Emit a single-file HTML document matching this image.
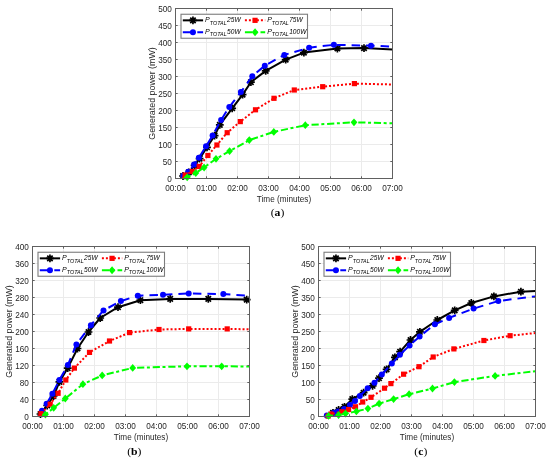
<!DOCTYPE html>
<html><head><meta charset="utf-8"><title>Generated power</title>
<style>
html,body{margin:0;padding:0;background:#fff;}
body{width:550px;height:460px;overflow:hidden;}
svg{display:block;}
.t{font-family:"Liberation Sans",Arial,sans-serif;font-size:8.2px;fill:#262626;}
.yl{font-family:"Liberation Sans",Arial,sans-serif;font-size:8.4px;fill:#262626;}
.lg{font-family:"Liberation Sans",Arial,sans-serif;font-size:7px;font-style:italic;fill:#000;}
.sub{font-size:5.4px;}
.num{font-size:6.6px;}
.cap{font-family:"Liberation Serif","Times New Roman",serif;font-size:10.6px;fill:#000;}
</style></head><body>
<svg width="550" height="460" viewBox="0 0 550 460">
<rect width="550" height="460" fill="#fff"/>
<g><path d="M206.5 8.5V178.5M237.5 8.5V178.5M268.5 8.5V178.5M299.5 8.5V178.5M330.5 8.5V178.5M361.5 8.5V178.5M175.5 161.5H392.5M175.5 144.5H392.5M175.5 127.5H392.5M175.5 110.5H392.5M175.5 93.5H392.5M175.5 76.5H392.5M175.5 59.5H392.5M175.5 42.5H392.5M175.5 25.5H392.5" stroke="#ebebeb" stroke-width="1" fill="none"/>
<path d="M181.8 178.5 183 176 188.8 172.4 194.6 165.4 199.6 158.6 207 147.3 214.6 135.7 219.8 124.9 232.2 108.3 242.6 94.6 250.9 82.2 265.7 70.9 285.7 59.6 303.9 52.6 337.4 48.5 364 48.1 392.5 49.4" stroke="#000000" stroke-width="2.0" fill="none" stroke-linejoin="round"/>
<path d="M183 172.1V179.9M179.1 176H186.9M180.3 173.3L185.7 178.7M180.3 178.7L185.7 173.3" stroke="#000" stroke-width="1.7" fill="none"/>
<path d="M188.8 168.5V176.3M184.9 172.4H192.7M186.1 169.7L191.5 175.1M186.1 175.1L191.5 169.7" stroke="#000" stroke-width="1.7" fill="none"/>
<path d="M194.6 161.5V169.3M190.7 165.4H198.5M191.9 162.7L197.3 168.1M191.9 168.1L197.3 162.7" stroke="#000" stroke-width="1.7" fill="none"/>
<path d="M199.6 154.7V162.5M195.7 158.6H203.5M196.9 155.9L202.3 161.3M196.9 161.3L202.3 155.9" stroke="#000" stroke-width="1.7" fill="none"/>
<path d="M207 143.4V151.2M203.1 147.3H210.9M204.3 144.6L209.7 150M204.3 150L209.7 144.6" stroke="#000" stroke-width="1.7" fill="none"/>
<path d="M214.6 131.8V139.6M210.7 135.7H218.5M211.9 133L217.3 138.4M211.9 138.4L217.3 133" stroke="#000" stroke-width="1.7" fill="none"/>
<path d="M219.8 121V128.8M215.9 124.9H223.7M217.1 122.2L222.5 127.6M217.1 127.6L222.5 122.2" stroke="#000" stroke-width="1.7" fill="none"/>
<path d="M232.2 104.4V112.2M228.3 108.3H236.1M229.5 105.6L234.9 111M229.5 111L234.9 105.6" stroke="#000" stroke-width="1.7" fill="none"/>
<path d="M242.6 90.7V98.5M238.7 94.6H246.5M239.9 91.9L245.3 97.3M239.9 97.3L245.3 91.9" stroke="#000" stroke-width="1.7" fill="none"/>
<path d="M250.9 78.3V86.1M247 82.2H254.8M248.2 79.5L253.6 84.9M248.2 84.9L253.6 79.5" stroke="#000" stroke-width="1.7" fill="none"/>
<path d="M265.7 67V74.8M261.8 70.9H269.6M263 68.2L268.4 73.6M263 73.6L268.4 68.2" stroke="#000" stroke-width="1.7" fill="none"/>
<path d="M285.7 55.7V63.5M281.8 59.6H289.6M283 56.9L288.4 62.3M283 62.3L288.4 56.9" stroke="#000" stroke-width="1.7" fill="none"/>
<path d="M303.9 48.7V56.5M300 52.6H307.8M301.2 49.9L306.6 55.3M301.2 55.3L306.6 49.9" stroke="#000" stroke-width="1.7" fill="none"/>
<path d="M337.4 44.6V52.4M333.5 48.5H341.3M334.7 45.8L340.1 51.2M334.7 51.2L340.1 45.8" stroke="#000" stroke-width="1.7" fill="none"/>
<path d="M364 44.2V52M360.1 48.1H367.9M361.3 45.4L366.7 50.8M361.3 50.8L366.7 45.4" stroke="#000" stroke-width="1.7" fill="none"/>
<path d="M181.5 178.5 183.4 175.7 188.3 171.8 194.1 164.6 198.9 157.7 206 146.3 212.6 135.4 221.1 120 229.3 106.9 240.9 92 252.3 76.2 264.8 65.7 284.3 54.9 309.1 47.7 333.9 44.8 371 45.7 392.5 46.6" stroke="#0000ff" stroke-width="2.0" fill="none" stroke-linejoin="round" stroke-dasharray="8.5 6"/>
<circle cx="183.4" cy="175.7" r="3.0" fill="#0000ff"/>
<circle cx="188.3" cy="171.8" r="3.0" fill="#0000ff"/>
<circle cx="194.1" cy="164.6" r="3.0" fill="#0000ff"/>
<circle cx="198.9" cy="157.7" r="3.0" fill="#0000ff"/>
<circle cx="206" cy="146.3" r="3.0" fill="#0000ff"/>
<circle cx="212.6" cy="135.4" r="3.0" fill="#0000ff"/>
<circle cx="221.1" cy="120" r="3.0" fill="#0000ff"/>
<circle cx="229.3" cy="106.9" r="3.0" fill="#0000ff"/>
<circle cx="240.9" cy="92" r="3.0" fill="#0000ff"/>
<circle cx="252.3" cy="76.2" r="3.0" fill="#0000ff"/>
<circle cx="264.8" cy="65.7" r="3.0" fill="#0000ff"/>
<circle cx="284.3" cy="54.9" r="3.0" fill="#0000ff"/>
<circle cx="309.1" cy="47.7" r="3.0" fill="#0000ff"/>
<circle cx="333.9" cy="44.8" r="3.0" fill="#0000ff"/>
<circle cx="371" cy="45.7" r="3.0" fill="#0000ff"/>
<path d="M182.3 178.5 185.1 175 192.3 171.5 199.2 166.4 207.9 155.5 216.9 145 227.2 132.7 240.3 121.6 255.5 109.8 274 98.3 294.3 90 322.7 86.7 354.4 83.6 392.5 84.5" stroke="#ff0000" stroke-width="2.0" fill="none" stroke-linejoin="round" stroke-dasharray="2 2"/>
<rect x="182.5" y="172.4" width="5.2" height="5.2" fill="#ff0000"/>
<rect x="189.7" y="168.9" width="5.2" height="5.2" fill="#ff0000"/>
<rect x="196.6" y="163.8" width="5.2" height="5.2" fill="#ff0000"/>
<rect x="205.3" y="152.9" width="5.2" height="5.2" fill="#ff0000"/>
<rect x="214.3" y="142.4" width="5.2" height="5.2" fill="#ff0000"/>
<rect x="224.6" y="130.1" width="5.2" height="5.2" fill="#ff0000"/>
<rect x="237.7" y="119" width="5.2" height="5.2" fill="#ff0000"/>
<rect x="252.9" y="107.2" width="5.2" height="5.2" fill="#ff0000"/>
<rect x="271.4" y="95.7" width="5.2" height="5.2" fill="#ff0000"/>
<rect x="291.7" y="87.4" width="5.2" height="5.2" fill="#ff0000"/>
<rect x="320.1" y="84.1" width="5.2" height="5.2" fill="#ff0000"/>
<rect x="351.8" y="81" width="5.2" height="5.2" fill="#ff0000"/>
<path d="M183.8 178.5 187.2 177.3 195.8 173 204.1 167.5 216 158.8 229.6 151.1 249.3 140.1 273.8 131.9 305.3 125.2 354 122.3 392.5 123.3" stroke="#00ff00" stroke-width="2.0" fill="none" stroke-linejoin="round" stroke-dasharray="7.2 2.6 3 2.8"/>
<path d="M187.2 173.4L190.6 177.3L187.2 181.2L183.8 177.3Z" fill="#00ff00"/>
<path d="M195.8 169.1L199.2 173L195.8 176.9L192.4 173Z" fill="#00ff00"/>
<path d="M204.1 163.6L207.5 167.5L204.1 171.4L200.7 167.5Z" fill="#00ff00"/>
<path d="M216 154.9L219.4 158.8L216 162.7L212.6 158.8Z" fill="#00ff00"/>
<path d="M229.6 147.2L233 151.1L229.6 155L226.2 151.1Z" fill="#00ff00"/>
<path d="M249.3 136.2L252.7 140.1L249.3 144L245.9 140.1Z" fill="#00ff00"/>
<path d="M273.8 128L277.2 131.9L273.8 135.8L270.4 131.9Z" fill="#00ff00"/>
<path d="M305.3 121.3L308.7 125.2L305.3 129.1L301.9 125.2Z" fill="#00ff00"/>
<path d="M354 118.4L357.4 122.3L354 126.2L350.6 122.3Z" fill="#00ff00"/>
<path d="M175.5 178.5V176.3M175.5 8.5V10.7M206.5 178.5V176.3M206.5 8.5V10.7M237.5 178.5V176.3M237.5 8.5V10.7M268.5 178.5V176.3M268.5 8.5V10.7M299.5 178.5V176.3M299.5 8.5V10.7M330.5 178.5V176.3M330.5 8.5V10.7M361.5 178.5V176.3M361.5 8.5V10.7M392.5 178.5V176.3M392.5 8.5V10.7M175.5 178.5H177.7M392.5 178.5H390.3M175.5 161.5H177.7M392.5 161.5H390.3M175.5 144.5H177.7M392.5 144.5H390.3M175.5 127.5H177.7M392.5 127.5H390.3M175.5 110.5H177.7M392.5 110.5H390.3M175.5 93.5H177.7M392.5 93.5H390.3M175.5 76.5H177.7M392.5 76.5H390.3M175.5 59.5H177.7M392.5 59.5H390.3M175.5 42.5H177.7M392.5 42.5H390.3M175.5 25.5H177.7M392.5 25.5H390.3M175.5 8.5H177.7M392.5 8.5H390.3" stroke="#606060" stroke-width="1" fill="none"/>
<rect x="175.5" y="8.5" width="217" height="170" stroke="#606060" stroke-width="1" fill="none"/>
<text transform="translate(175.5 190.6) scale(1 1.1)" text-anchor="middle" class="t">00:00</text>
<text transform="translate(206.5 190.6) scale(1 1.1)" text-anchor="middle" class="t">01:00</text>
<text transform="translate(237.5 190.6) scale(1 1.1)" text-anchor="middle" class="t">02:00</text>
<text transform="translate(268.5 190.6) scale(1 1.1)" text-anchor="middle" class="t">03:00</text>
<text transform="translate(299.5 190.6) scale(1 1.1)" text-anchor="middle" class="t">04:00</text>
<text transform="translate(330.5 190.6) scale(1 1.1)" text-anchor="middle" class="t">05:00</text>
<text transform="translate(361.5 190.6) scale(1 1.1)" text-anchor="middle" class="t">06:00</text>
<text transform="translate(392.5 190.6) scale(1 1.1)" text-anchor="middle" class="t">07:00</text>
<text transform="translate(171.9 181.69) scale(1 1.1)" text-anchor="end" class="t">0</text>
<text transform="translate(171.9 164.69) scale(1 1.1)" text-anchor="end" class="t">50</text>
<text transform="translate(171.9 147.69) scale(1 1.1)" text-anchor="end" class="t">100</text>
<text transform="translate(171.9 130.69) scale(1 1.1)" text-anchor="end" class="t">150</text>
<text transform="translate(171.9 113.69) scale(1 1.1)" text-anchor="end" class="t">200</text>
<text transform="translate(171.9 96.69) scale(1 1.1)" text-anchor="end" class="t">250</text>
<text transform="translate(171.9 79.69) scale(1 1.1)" text-anchor="end" class="t">300</text>
<text transform="translate(171.9 62.69) scale(1 1.1)" text-anchor="end" class="t">350</text>
<text transform="translate(171.9 45.69) scale(1 1.1)" text-anchor="end" class="t">400</text>
<text transform="translate(171.9 28.69) scale(1 1.1)" text-anchor="end" class="t">450</text>
<text transform="translate(171.9 11.69) scale(1 1.1)" text-anchor="end" class="t">500</text>
<text transform="translate(284 201.7) scale(1 1.1)" text-anchor="middle" class="t">Time (minutes)</text>
<text transform="translate(154.8 93.5) rotate(-90)" text-anchor="middle" class="yl" textLength="92.5" lengthAdjust="spacingAndGlyphs">Generated power (mW)</text>
<text transform="translate(277.5 216.4) scale(1.1 1)" text-anchor="middle" class="cap">(<tspan font-weight="bold">a</tspan>)</text>
<rect x="181" y="14.25" width="126.5" height="24" fill="#fff" stroke="#7c7c7c" stroke-width="1.1"/>
<path d="M182.8 20.35H203.1" stroke="#000000" stroke-width="2.0"/>
<path d="M192.95 16.45V24.25M189.05 20.35H196.85M190.25 17.65L195.65 23.05M190.25 23.05L195.65 17.65" stroke="#000" stroke-width="1.7" fill="none"/>
<text x="205.1" y="22.15" class="lg">P<tspan class="sub" dy="2.4">TOTAL</tspan><tspan class="num" dx="0.4" dy="-2.8">25W</tspan></text>
<path d="M182.8 32.25H203.1" stroke="#0000ff" stroke-width="2.0" stroke-dasharray="8.5 6"/>
<circle cx="192.95" cy="32.25" r="3.0" fill="#0000ff"/>
<text x="205.1" y="34.05" class="lg">P<tspan class="sub" dy="2.4">TOTAL</tspan><tspan class="num" dx="0.4" dy="-2.8">50W</tspan></text>
<path d="M244.9 20.35H265.2" stroke="#ff0000" stroke-width="2.0" stroke-dasharray="2 2"/>
<rect x="252.45" y="17.75" width="5.2" height="5.2" fill="#ff0000"/>
<text x="267.2" y="22.15" class="lg">P<tspan class="sub" dy="2.4">TOTAL</tspan><tspan class="num" dx="0.4" dy="-2.8">75W</tspan></text>
<path d="M244.9 32.25H265.2" stroke="#00ff00" stroke-width="2.0" stroke-dasharray="7.2 2.6 3 2.8"/>
<path d="M255.05 28.35L258.45 32.25L255.05 36.15L251.65 32.25Z" fill="#00ff00"/>
<text x="267.2" y="34.05" class="lg">P<tspan class="sub" dy="2.4">TOTAL</tspan><tspan class="num" dx="0.4" dy="-2.8">100W</tspan></text></g>
<g><path d="M63.5 246.5V416.5M94.5 246.5V416.5M125.5 246.5V416.5M156.5 246.5V416.5M187.5 246.5V416.5M218.5 246.5V416.5M32.5 399.5H249.5M32.5 382.5H249.5M32.5 365.5H249.5M32.5 348.5H249.5M32.5 331.5H249.5M32.5 314.5H249.5M32.5 297.5H249.5M32.5 280.5H249.5M32.5 263.5H249.5" stroke="#ebebeb" stroke-width="1" fill="none"/>
<path d="M38.3 416.5 40.5 414 47.2 405.5 53.6 396 59.4 381.9 67.7 368.1 77.5 348.5 88.5 332 100.2 318 118 307.2 140.4 300.2 170.2 298.9 208.3 298.9 246.7 299.6 249.5 299.7" stroke="#000000" stroke-width="2.0" fill="none" stroke-linejoin="round"/>
<path d="M40.5 410.1V417.9M36.6 414H44.4M37.8 411.3L43.2 416.7M37.8 416.7L43.2 411.3" stroke="#000" stroke-width="1.7" fill="none"/>
<path d="M47.2 401.6V409.4M43.3 405.5H51.1M44.5 402.8L49.9 408.2M44.5 408.2L49.9 402.8" stroke="#000" stroke-width="1.7" fill="none"/>
<path d="M53.6 392.1V399.9M49.7 396H57.5M50.9 393.3L56.3 398.7M50.9 398.7L56.3 393.3" stroke="#000" stroke-width="1.7" fill="none"/>
<path d="M59.4 378V385.8M55.5 381.9H63.3M56.7 379.2L62.1 384.6M56.7 384.6L62.1 379.2" stroke="#000" stroke-width="1.7" fill="none"/>
<path d="M67.7 364.2V372M63.8 368.1H71.6M65 365.4L70.4 370.8M65 370.8L70.4 365.4" stroke="#000" stroke-width="1.7" fill="none"/>
<path d="M77.5 344.6V352.4M73.6 348.5H81.4M74.8 345.8L80.2 351.2M74.8 351.2L80.2 345.8" stroke="#000" stroke-width="1.7" fill="none"/>
<path d="M88.5 328.1V335.9M84.6 332H92.4M85.8 329.3L91.2 334.7M85.8 334.7L91.2 329.3" stroke="#000" stroke-width="1.7" fill="none"/>
<path d="M100.2 314.1V321.9M96.3 318H104.1M97.5 315.3L102.9 320.7M97.5 320.7L102.9 315.3" stroke="#000" stroke-width="1.7" fill="none"/>
<path d="M118 303.3V311.1M114.1 307.2H121.9M115.3 304.5L120.7 309.9M115.3 309.9L120.7 304.5" stroke="#000" stroke-width="1.7" fill="none"/>
<path d="M140.4 296.3V304.1M136.5 300.2H144.3M137.7 297.5L143.1 302.9M137.7 302.9L143.1 297.5" stroke="#000" stroke-width="1.7" fill="none"/>
<path d="M170.2 295V302.8M166.3 298.9H174.1M167.5 296.2L172.9 301.6M167.5 301.6L172.9 296.2" stroke="#000" stroke-width="1.7" fill="none"/>
<path d="M208.3 295V302.8M204.4 298.9H212.2M205.6 296.2L211 301.6M205.6 301.6L211 296.2" stroke="#000" stroke-width="1.7" fill="none"/>
<path d="M246.7 295.7V303.5M242.8 299.6H250.6M244 296.9L249.4 302.3M244 302.3L249.4 296.9" stroke="#000" stroke-width="1.7" fill="none"/>
<path d="M39 416.5 42 410.8 46.6 403.8 52.4 393.8 59.4 379.9 67.9 365 76.4 344.4 90.9 325.2 103.5 310.4 120.9 301.1 137.8 295.7 163 294.8 188.7 293.5 223.3 294.1 249.5 295.7" stroke="#0000ff" stroke-width="2.0" fill="none" stroke-linejoin="round" stroke-dasharray="8.5 6"/>
<circle cx="42" cy="410.8" r="3.0" fill="#0000ff"/>
<circle cx="46.6" cy="403.8" r="3.0" fill="#0000ff"/>
<circle cx="52.4" cy="393.8" r="3.0" fill="#0000ff"/>
<circle cx="59.4" cy="379.9" r="3.0" fill="#0000ff"/>
<circle cx="67.9" cy="365" r="3.0" fill="#0000ff"/>
<circle cx="76.4" cy="344.4" r="3.0" fill="#0000ff"/>
<circle cx="90.9" cy="325.2" r="3.0" fill="#0000ff"/>
<circle cx="103.5" cy="310.4" r="3.0" fill="#0000ff"/>
<circle cx="120.9" cy="301.1" r="3.0" fill="#0000ff"/>
<circle cx="137.8" cy="295.7" r="3.0" fill="#0000ff"/>
<circle cx="163" cy="294.8" r="3.0" fill="#0000ff"/>
<circle cx="188.7" cy="293.5" r="3.0" fill="#0000ff"/>
<circle cx="223.3" cy="294.1" r="3.0" fill="#0000ff"/>
<path d="M38.8 416.5 41 413.7 50.2 404.2 58.1 393.3 65.8 380 74.4 368.1 89.5 352.4 109.5 341 129.6 332.6 159 329.5 188.7 328.9 227.2 328.9 249.5 329.3" stroke="#ff0000" stroke-width="2.0" fill="none" stroke-linejoin="round" stroke-dasharray="2 2"/>
<rect x="38.4" y="411.1" width="5.2" height="5.2" fill="#ff0000"/>
<rect x="47.6" y="401.6" width="5.2" height="5.2" fill="#ff0000"/>
<rect x="55.5" y="390.7" width="5.2" height="5.2" fill="#ff0000"/>
<rect x="63.2" y="377.4" width="5.2" height="5.2" fill="#ff0000"/>
<rect x="71.8" y="365.5" width="5.2" height="5.2" fill="#ff0000"/>
<rect x="86.9" y="349.8" width="5.2" height="5.2" fill="#ff0000"/>
<rect x="106.9" y="338.4" width="5.2" height="5.2" fill="#ff0000"/>
<rect x="127" y="330" width="5.2" height="5.2" fill="#ff0000"/>
<rect x="156.4" y="326.9" width="5.2" height="5.2" fill="#ff0000"/>
<rect x="186.1" y="326.3" width="5.2" height="5.2" fill="#ff0000"/>
<rect x="224.6" y="326.3" width="5.2" height="5.2" fill="#ff0000"/>
<path d="M42 416.5 45.4 414.6 53.7 407.8 65.3 398.5 82.9 384.2 102.2 375.4 132.7 367.9 187 366.3 221.7 366.3 249.5 366.5" stroke="#00ff00" stroke-width="2.0" fill="none" stroke-linejoin="round" stroke-dasharray="7.2 2.6 3 2.8"/>
<path d="M45.4 410.7L48.8 414.6L45.4 418.5L42 414.6Z" fill="#00ff00"/>
<path d="M53.7 403.9L57.1 407.8L53.7 411.7L50.3 407.8Z" fill="#00ff00"/>
<path d="M65.3 394.6L68.7 398.5L65.3 402.4L61.9 398.5Z" fill="#00ff00"/>
<path d="M82.9 380.3L86.3 384.2L82.9 388.1L79.5 384.2Z" fill="#00ff00"/>
<path d="M102.2 371.5L105.6 375.4L102.2 379.3L98.8 375.4Z" fill="#00ff00"/>
<path d="M132.7 364L136.1 367.9L132.7 371.8L129.3 367.9Z" fill="#00ff00"/>
<path d="M187 362.4L190.4 366.3L187 370.2L183.6 366.3Z" fill="#00ff00"/>
<path d="M221.7 362.4L225.1 366.3L221.7 370.2L218.3 366.3Z" fill="#00ff00"/>
<path d="M32.5 416.5V414.3M32.5 246.5V248.7M63.5 416.5V414.3M63.5 246.5V248.7M94.5 416.5V414.3M94.5 246.5V248.7M125.5 416.5V414.3M125.5 246.5V248.7M156.5 416.5V414.3M156.5 246.5V248.7M187.5 416.5V414.3M187.5 246.5V248.7M218.5 416.5V414.3M218.5 246.5V248.7M249.5 416.5V414.3M249.5 246.5V248.7M32.5 416.5H34.7M249.5 416.5H247.3M32.5 399.5H34.7M249.5 399.5H247.3M32.5 382.5H34.7M249.5 382.5H247.3M32.5 365.5H34.7M249.5 365.5H247.3M32.5 348.5H34.7M249.5 348.5H247.3M32.5 331.5H34.7M249.5 331.5H247.3M32.5 314.5H34.7M249.5 314.5H247.3M32.5 297.5H34.7M249.5 297.5H247.3M32.5 280.5H34.7M249.5 280.5H247.3M32.5 263.5H34.7M249.5 263.5H247.3M32.5 246.5H34.7M249.5 246.5H247.3" stroke="#606060" stroke-width="1" fill="none"/>
<rect x="32.5" y="246.5" width="217" height="170" stroke="#606060" stroke-width="1" fill="none"/>
<text transform="translate(32.5 428.6) scale(1 1.1)" text-anchor="middle" class="t">00:00</text>
<text transform="translate(63.5 428.6) scale(1 1.1)" text-anchor="middle" class="t">01:00</text>
<text transform="translate(94.5 428.6) scale(1 1.1)" text-anchor="middle" class="t">02:00</text>
<text transform="translate(125.5 428.6) scale(1 1.1)" text-anchor="middle" class="t">03:00</text>
<text transform="translate(156.5 428.6) scale(1 1.1)" text-anchor="middle" class="t">04:00</text>
<text transform="translate(187.5 428.6) scale(1 1.1)" text-anchor="middle" class="t">05:00</text>
<text transform="translate(218.5 428.6) scale(1 1.1)" text-anchor="middle" class="t">06:00</text>
<text transform="translate(249.5 428.6) scale(1 1.1)" text-anchor="middle" class="t">07:00</text>
<text transform="translate(28.9 419.69) scale(1 1.1)" text-anchor="end" class="t">0</text>
<text transform="translate(28.9 402.69) scale(1 1.1)" text-anchor="end" class="t">40</text>
<text transform="translate(28.9 385.69) scale(1 1.1)" text-anchor="end" class="t">80</text>
<text transform="translate(28.9 368.69) scale(1 1.1)" text-anchor="end" class="t">120</text>
<text transform="translate(28.9 351.69) scale(1 1.1)" text-anchor="end" class="t">160</text>
<text transform="translate(28.9 334.69) scale(1 1.1)" text-anchor="end" class="t">200</text>
<text transform="translate(28.9 317.69) scale(1 1.1)" text-anchor="end" class="t">240</text>
<text transform="translate(28.9 300.69) scale(1 1.1)" text-anchor="end" class="t">280</text>
<text transform="translate(28.9 283.69) scale(1 1.1)" text-anchor="end" class="t">320</text>
<text transform="translate(28.9 266.69) scale(1 1.1)" text-anchor="end" class="t">360</text>
<text transform="translate(28.9 249.69) scale(1 1.1)" text-anchor="end" class="t">400</text>
<text transform="translate(141 439.7) scale(1 1.1)" text-anchor="middle" class="t">Time (minutes)</text>
<text transform="translate(12.1 331.5) rotate(-90)" text-anchor="middle" class="yl" textLength="92.5" lengthAdjust="spacingAndGlyphs">Generated power (mW)</text>
<text transform="translate(134.3 455) scale(1.1 1)" text-anchor="middle" class="cap">(<tspan font-weight="bold">b</tspan>)</text>
<rect x="38" y="252.25" width="126.5" height="24" fill="#fff" stroke="#7c7c7c" stroke-width="1.1"/>
<path d="M39.8 258.35H60.1" stroke="#000000" stroke-width="2.0"/>
<path d="M49.95 254.45V262.25M46.05 258.35H53.85M47.25 255.65L52.65 261.05M47.25 261.05L52.65 255.65" stroke="#000" stroke-width="1.7" fill="none"/>
<text x="62.1" y="260.15" class="lg">P<tspan class="sub" dy="2.4">TOTAL</tspan><tspan class="num" dx="0.4" dy="-2.8">25W</tspan></text>
<path d="M39.8 270.25H60.1" stroke="#0000ff" stroke-width="2.0" stroke-dasharray="8.5 6"/>
<circle cx="49.95" cy="270.25" r="3.0" fill="#0000ff"/>
<text x="62.1" y="272.05" class="lg">P<tspan class="sub" dy="2.4">TOTAL</tspan><tspan class="num" dx="0.4" dy="-2.8">50W</tspan></text>
<path d="M101.9 258.35H122.2" stroke="#ff0000" stroke-width="2.0" stroke-dasharray="2 2"/>
<rect x="109.45" y="255.75" width="5.2" height="5.2" fill="#ff0000"/>
<text x="124.2" y="260.15" class="lg">P<tspan class="sub" dy="2.4">TOTAL</tspan><tspan class="num" dx="0.4" dy="-2.8">75W</tspan></text>
<path d="M101.9 270.25H122.2" stroke="#00ff00" stroke-width="2.0" stroke-dasharray="7.2 2.6 3 2.8"/>
<path d="M112.05 266.35L115.45 270.25L112.05 274.15L108.65 270.25Z" fill="#00ff00"/>
<text x="124.2" y="272.05" class="lg">P<tspan class="sub" dy="2.4">TOTAL</tspan><tspan class="num" dx="0.4" dy="-2.8">100W</tspan></text></g>
<g><path d="M349.5 246.5V416.5M380.5 246.5V416.5M411.5 246.5V416.5M442.5 246.5V416.5M473.5 246.5V416.5M504.5 246.5V416.5M318.5 399.5H535.5M318.5 382.5H535.5M318.5 365.5H535.5M318.5 348.5H535.5M318.5 331.5H535.5M318.5 314.5H535.5M318.5 297.5H535.5M318.5 280.5H535.5M318.5 263.5H535.5" stroke="#ebebeb" stroke-width="1" fill="none"/>
<path d="M325 416.5 333 412.8 338.6 410 344.5 406.8 352.3 399.1 363.6 392.7 372.6 385.8 379 378.2 386.6 369.4 394.9 357.4 400.1 351.7 410.5 340 419.9 331.8 437.3 320 454.7 310.4 471.3 303 493.9 296.4 520.9 291.7 535.5 290.9" stroke="#000000" stroke-width="2.0" fill="none" stroke-linejoin="round"/>
<path d="M333 408.9V416.7M329.1 412.8H336.9M330.3 410.1L335.7 415.5M330.3 415.5L335.7 410.1" stroke="#000" stroke-width="1.7" fill="none"/>
<path d="M338.6 406.1V413.9M334.7 410H342.5M335.9 407.3L341.3 412.7M335.9 412.7L341.3 407.3" stroke="#000" stroke-width="1.7" fill="none"/>
<path d="M344.5 402.9V410.7M340.6 406.8H348.4M341.8 404.1L347.2 409.5M341.8 409.5L347.2 404.1" stroke="#000" stroke-width="1.7" fill="none"/>
<path d="M352.3 395.2V403M348.4 399.1H356.2M349.6 396.4L355 401.8M349.6 401.8L355 396.4" stroke="#000" stroke-width="1.7" fill="none"/>
<path d="M363.6 388.8V396.6M359.7 392.7H367.5M360.9 390L366.3 395.4M360.9 395.4L366.3 390" stroke="#000" stroke-width="1.7" fill="none"/>
<path d="M372.6 381.9V389.7M368.7 385.8H376.5M369.9 383.1L375.3 388.5M369.9 388.5L375.3 383.1" stroke="#000" stroke-width="1.7" fill="none"/>
<path d="M379 374.3V382.1M375.1 378.2H382.9M376.3 375.5L381.7 380.9M376.3 380.9L381.7 375.5" stroke="#000" stroke-width="1.7" fill="none"/>
<path d="M386.6 365.5V373.3M382.7 369.4H390.5M383.9 366.7L389.3 372.1M383.9 372.1L389.3 366.7" stroke="#000" stroke-width="1.7" fill="none"/>
<path d="M394.9 353.5V361.3M391 357.4H398.8M392.2 354.7L397.6 360.1M392.2 360.1L397.6 354.7" stroke="#000" stroke-width="1.7" fill="none"/>
<path d="M400.1 347.8V355.6M396.2 351.7H404M397.4 349L402.8 354.4M397.4 354.4L402.8 349" stroke="#000" stroke-width="1.7" fill="none"/>
<path d="M410.5 336.1V343.9M406.6 340H414.4M407.8 337.3L413.2 342.7M407.8 342.7L413.2 337.3" stroke="#000" stroke-width="1.7" fill="none"/>
<path d="M419.9 327.9V335.7M416 331.8H423.8M417.2 329.1L422.6 334.5M417.2 334.5L422.6 329.1" stroke="#000" stroke-width="1.7" fill="none"/>
<path d="M437.3 316.1V323.9M433.4 320H441.2M434.6 317.3L440 322.7M434.6 322.7L440 317.3" stroke="#000" stroke-width="1.7" fill="none"/>
<path d="M454.7 306.5V314.3M450.8 310.4H458.6M452 307.7L457.4 313.1M452 313.1L457.4 307.7" stroke="#000" stroke-width="1.7" fill="none"/>
<path d="M471.3 299.1V306.9M467.4 303H475.2M468.6 300.3L474 305.7M468.6 305.7L474 300.3" stroke="#000" stroke-width="1.7" fill="none"/>
<path d="M493.9 292.5V300.3M490 296.4H497.8M491.2 293.7L496.6 299.1M491.2 299.1L496.6 293.7" stroke="#000" stroke-width="1.7" fill="none"/>
<path d="M520.9 287.8V295.6M517 291.7H524.8M518.2 289L523.6 294.4M518.2 294.4L523.6 289" stroke="#000" stroke-width="1.7" fill="none"/>
<path d="M325 416.5 326.8 415.5 334.1 412.7 338.2 411.4 344.1 409.1 350 405 355 400.9 359.8 395.9 367.7 388.2 374.5 382.7 381.8 374.5 391.8 363.6 399.9 354.8 409.6 345.4 419.6 336.5 434.9 324.3 449.1 317.9 473.6 308.6 498.3 301 535.5 296.4" stroke="#0000ff" stroke-width="2.0" fill="none" stroke-linejoin="round" stroke-dasharray="8.5 6"/>
<circle cx="326.8" cy="415.5" r="3.0" fill="#0000ff"/>
<circle cx="334.1" cy="412.7" r="3.0" fill="#0000ff"/>
<circle cx="338.2" cy="411.4" r="3.0" fill="#0000ff"/>
<circle cx="344.1" cy="409.1" r="3.0" fill="#0000ff"/>
<circle cx="350" cy="405" r="3.0" fill="#0000ff"/>
<circle cx="355" cy="400.9" r="3.0" fill="#0000ff"/>
<circle cx="359.8" cy="395.9" r="3.0" fill="#0000ff"/>
<circle cx="367.7" cy="388.2" r="3.0" fill="#0000ff"/>
<circle cx="374.5" cy="382.7" r="3.0" fill="#0000ff"/>
<circle cx="381.8" cy="374.5" r="3.0" fill="#0000ff"/>
<circle cx="391.8" cy="363.6" r="3.0" fill="#0000ff"/>
<circle cx="399.9" cy="354.8" r="3.0" fill="#0000ff"/>
<circle cx="409.6" cy="345.4" r="3.0" fill="#0000ff"/>
<circle cx="419.6" cy="336.5" r="3.0" fill="#0000ff"/>
<circle cx="434.9" cy="324.3" r="3.0" fill="#0000ff"/>
<circle cx="449.1" cy="317.9" r="3.0" fill="#0000ff"/>
<circle cx="473.6" cy="308.6" r="3.0" fill="#0000ff"/>
<circle cx="498.3" cy="301" r="3.0" fill="#0000ff"/>
<path d="M325.5 416.5 328.2 416 330.9 414 341.8 411.8 348.6 409.5 355.5 406.8 362.7 402 371 397.3 384.5 388.2 390.9 383.6 403.6 374.2 419 366.7 433.2 357 453.9 348.9 483.9 340.5 510.1 335.7 535.5 333" stroke="#ff0000" stroke-width="2.0" fill="none" stroke-linejoin="round" stroke-dasharray="2 2"/>
<rect x="325.6" y="413.4" width="5.2" height="5.2" fill="#ff0000"/>
<rect x="328.3" y="411.4" width="5.2" height="5.2" fill="#ff0000"/>
<rect x="339.2" y="409.2" width="5.2" height="5.2" fill="#ff0000"/>
<rect x="346" y="406.9" width="5.2" height="5.2" fill="#ff0000"/>
<rect x="352.9" y="404.2" width="5.2" height="5.2" fill="#ff0000"/>
<rect x="360.1" y="399.4" width="5.2" height="5.2" fill="#ff0000"/>
<rect x="368.4" y="394.7" width="5.2" height="5.2" fill="#ff0000"/>
<rect x="381.9" y="385.6" width="5.2" height="5.2" fill="#ff0000"/>
<rect x="388.3" y="381" width="5.2" height="5.2" fill="#ff0000"/>
<rect x="401" y="371.6" width="5.2" height="5.2" fill="#ff0000"/>
<rect x="416.4" y="364.1" width="5.2" height="5.2" fill="#ff0000"/>
<rect x="430.6" y="354.4" width="5.2" height="5.2" fill="#ff0000"/>
<rect x="451.3" y="346.3" width="5.2" height="5.2" fill="#ff0000"/>
<rect x="481.3" y="337.9" width="5.2" height="5.2" fill="#ff0000"/>
<rect x="507.5" y="333.1" width="5.2" height="5.2" fill="#ff0000"/>
<path d="M326 416.5 328.6 415.9 338.6 415 345.5 413.6 356.4 411.4 367.9 408.6 379.1 403.6 393.6 399.1 409.1 394.2 432.5 388.5 454.4 382.1 495.1 375.9 535.5 371.2" stroke="#00ff00" stroke-width="2.0" fill="none" stroke-linejoin="round" stroke-dasharray="7.2 2.6 3 2.8"/>
<path d="M328.6 412L332 415.9L328.6 419.8L325.2 415.9Z" fill="#00ff00"/>
<path d="M338.6 411.1L342 415L338.6 418.9L335.2 415Z" fill="#00ff00"/>
<path d="M345.5 409.7L348.9 413.6L345.5 417.5L342.1 413.6Z" fill="#00ff00"/>
<path d="M356.4 407.5L359.8 411.4L356.4 415.3L353 411.4Z" fill="#00ff00"/>
<path d="M367.9 404.7L371.3 408.6L367.9 412.5L364.5 408.6Z" fill="#00ff00"/>
<path d="M379.1 399.7L382.5 403.6L379.1 407.5L375.7 403.6Z" fill="#00ff00"/>
<path d="M393.6 395.2L397 399.1L393.6 403L390.2 399.1Z" fill="#00ff00"/>
<path d="M409.1 390.3L412.5 394.2L409.1 398.1L405.7 394.2Z" fill="#00ff00"/>
<path d="M432.5 384.6L435.9 388.5L432.5 392.4L429.1 388.5Z" fill="#00ff00"/>
<path d="M454.4 378.2L457.8 382.1L454.4 386L451 382.1Z" fill="#00ff00"/>
<path d="M495.1 372L498.5 375.9L495.1 379.8L491.7 375.9Z" fill="#00ff00"/>
<path d="M318.5 416.5V414.3M318.5 246.5V248.7M349.5 416.5V414.3M349.5 246.5V248.7M380.5 416.5V414.3M380.5 246.5V248.7M411.5 416.5V414.3M411.5 246.5V248.7M442.5 416.5V414.3M442.5 246.5V248.7M473.5 416.5V414.3M473.5 246.5V248.7M504.5 416.5V414.3M504.5 246.5V248.7M535.5 416.5V414.3M535.5 246.5V248.7M318.5 416.5H320.7M535.5 416.5H533.3M318.5 399.5H320.7M535.5 399.5H533.3M318.5 382.5H320.7M535.5 382.5H533.3M318.5 365.5H320.7M535.5 365.5H533.3M318.5 348.5H320.7M535.5 348.5H533.3M318.5 331.5H320.7M535.5 331.5H533.3M318.5 314.5H320.7M535.5 314.5H533.3M318.5 297.5H320.7M535.5 297.5H533.3M318.5 280.5H320.7M535.5 280.5H533.3M318.5 263.5H320.7M535.5 263.5H533.3M318.5 246.5H320.7M535.5 246.5H533.3" stroke="#606060" stroke-width="1" fill="none"/>
<rect x="318.5" y="246.5" width="217" height="170" stroke="#606060" stroke-width="1" fill="none"/>
<text transform="translate(318.5 428.6) scale(1 1.1)" text-anchor="middle" class="t">00:00</text>
<text transform="translate(349.5 428.6) scale(1 1.1)" text-anchor="middle" class="t">01:00</text>
<text transform="translate(380.5 428.6) scale(1 1.1)" text-anchor="middle" class="t">02:00</text>
<text transform="translate(411.5 428.6) scale(1 1.1)" text-anchor="middle" class="t">03:00</text>
<text transform="translate(442.5 428.6) scale(1 1.1)" text-anchor="middle" class="t">04:00</text>
<text transform="translate(473.5 428.6) scale(1 1.1)" text-anchor="middle" class="t">05:00</text>
<text transform="translate(504.5 428.6) scale(1 1.1)" text-anchor="middle" class="t">06:00</text>
<text transform="translate(535.5 428.6) scale(1 1.1)" text-anchor="middle" class="t">07:00</text>
<text transform="translate(314.9 419.69) scale(1 1.1)" text-anchor="end" class="t">0</text>
<text transform="translate(314.9 402.69) scale(1 1.1)" text-anchor="end" class="t">50</text>
<text transform="translate(314.9 385.69) scale(1 1.1)" text-anchor="end" class="t">100</text>
<text transform="translate(314.9 368.69) scale(1 1.1)" text-anchor="end" class="t">150</text>
<text transform="translate(314.9 351.69) scale(1 1.1)" text-anchor="end" class="t">200</text>
<text transform="translate(314.9 334.69) scale(1 1.1)" text-anchor="end" class="t">250</text>
<text transform="translate(314.9 317.69) scale(1 1.1)" text-anchor="end" class="t">300</text>
<text transform="translate(314.9 300.69) scale(1 1.1)" text-anchor="end" class="t">350</text>
<text transform="translate(314.9 283.69) scale(1 1.1)" text-anchor="end" class="t">400</text>
<text transform="translate(314.9 266.69) scale(1 1.1)" text-anchor="end" class="t">450</text>
<text transform="translate(314.9 249.69) scale(1 1.1)" text-anchor="end" class="t">500</text>
<text transform="translate(427 439.7) scale(1 1.1)" text-anchor="middle" class="t">Time (minutes)</text>
<text transform="translate(298.2 331.5) rotate(-90)" text-anchor="middle" class="yl" textLength="92.5" lengthAdjust="spacingAndGlyphs">Generated power (mW)</text>
<text transform="translate(420.8 455) scale(1.1 1)" text-anchor="middle" class="cap">(<tspan font-weight="bold">c</tspan>)</text>
<rect x="324" y="252.25" width="126.5" height="24" fill="#fff" stroke="#7c7c7c" stroke-width="1.1"/>
<path d="M325.8 258.35H346.1" stroke="#000000" stroke-width="2.0"/>
<path d="M335.95 254.45V262.25M332.05 258.35H339.85M333.25 255.65L338.65 261.05M333.25 261.05L338.65 255.65" stroke="#000" stroke-width="1.7" fill="none"/>
<text x="348.1" y="260.15" class="lg">P<tspan class="sub" dy="2.4">TOTAL</tspan><tspan class="num" dx="0.4" dy="-2.8">25W</tspan></text>
<path d="M325.8 270.25H346.1" stroke="#0000ff" stroke-width="2.0" stroke-dasharray="8.5 6"/>
<circle cx="335.95" cy="270.25" r="3.0" fill="#0000ff"/>
<text x="348.1" y="272.05" class="lg">P<tspan class="sub" dy="2.4">TOTAL</tspan><tspan class="num" dx="0.4" dy="-2.8">50W</tspan></text>
<path d="M387.9 258.35H408.2" stroke="#ff0000" stroke-width="2.0" stroke-dasharray="2 2"/>
<rect x="395.45" y="255.75" width="5.2" height="5.2" fill="#ff0000"/>
<text x="410.2" y="260.15" class="lg">P<tspan class="sub" dy="2.4">TOTAL</tspan><tspan class="num" dx="0.4" dy="-2.8">75W</tspan></text>
<path d="M387.9 270.25H408.2" stroke="#00ff00" stroke-width="2.0" stroke-dasharray="7.2 2.6 3 2.8"/>
<path d="M398.05 266.35L401.45 270.25L398.05 274.15L394.65 270.25Z" fill="#00ff00"/>
<text x="410.2" y="272.05" class="lg">P<tspan class="sub" dy="2.4">TOTAL</tspan><tspan class="num" dx="0.4" dy="-2.8">100W</tspan></text></g>
</svg>
</body></html>
